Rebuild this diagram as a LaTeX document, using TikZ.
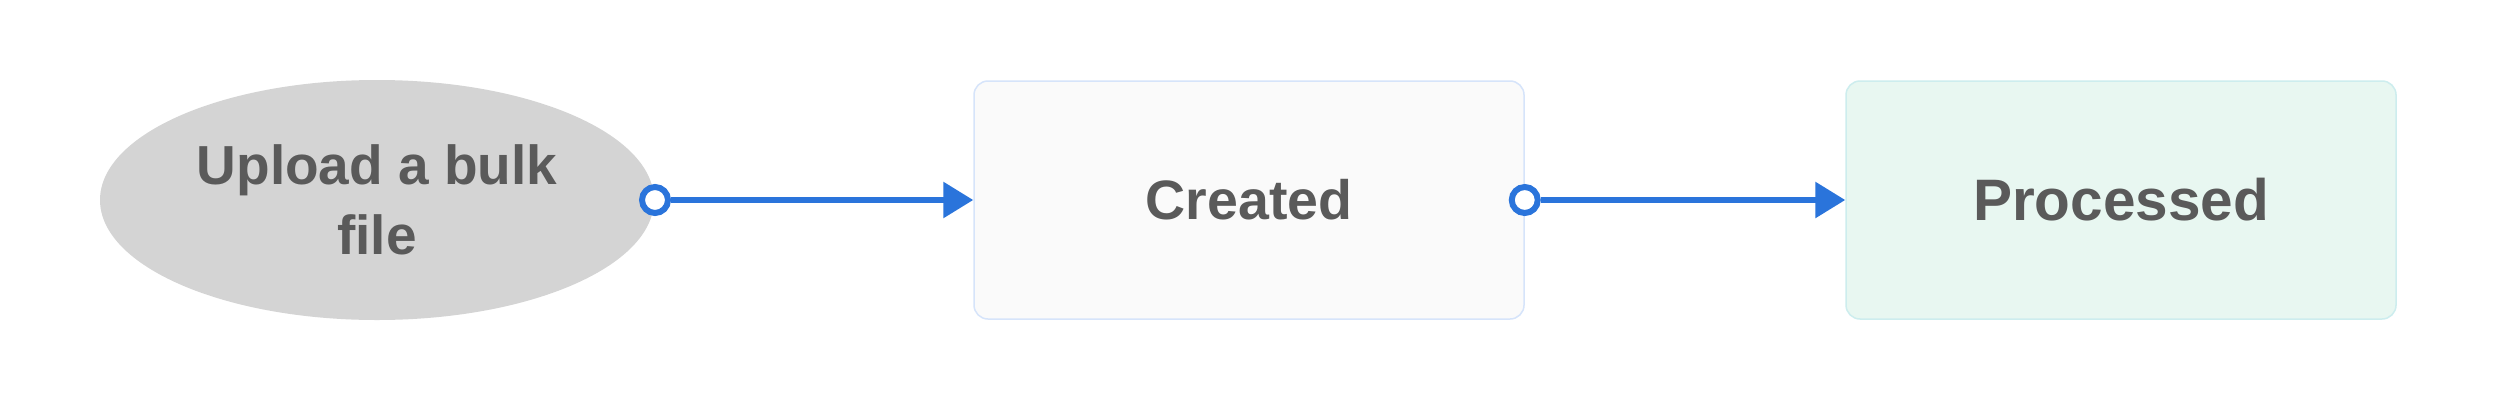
\documentclass[tikz,border=0pt]{standalone}
\usepackage{fontspec}
\setmainfont{Liberation Sans}
\usetikzlibrary{arrows.meta,shapes.geometric}
\pgfdeclarelayer{bg}
\pgfsetlayers{bg,main}
\newdimen\px
\px=0.2pt
\definecolor{txtc}{HTML}{5A5A5A}
\definecolor{ellfill}{HTML}{D4D4D4}
\definecolor{arrowc}{HTML}{2A74DB}
\definecolor{crfill}{HTML}{FAFAFA}
\definecolor{crline}{HTML}{D6E4FA}
\definecolor{prfill}{HTML}{E8F7F1}
\definecolor{prline}{HTML}{CDEDEE}
\definecolor{glowc}{HTML}{C4D6F5}
\definecolor{shadc}{HTML}{6A6A6A}
\tikzset{
  ellnode/.style={ellipse, fill=ellfill, minimum width=554\px, minimum height=240\px,
    inner sep=0pt, align=center, text=txtc,
    font=\fontsize{11}{14}\selectfont\bfseries},
  boxnode/.style={rectangle, rounded corners=14\px, line width=1.5\px,
    minimum width=550\px, minimum height=238\px, inner sep=0pt, text=txtc},
  crbox/.style={boxnode, fill=crfill, draw=crline, font=\fontsize{11.1}{13}\selectfont\bfseries},
  prbox/.style={boxnode, fill=prfill, draw=prline, font=\fontsize{11.7}{14}\selectfont\bfseries},
  portdot/.style={circle, draw=arrowc, line width=6\px, fill=white, minimum size=26\px, inner sep=0pt},
  conn/.style={draw=arrowc, line width=6\px, -{Triangle[length=6pt,width=7pt]}},
}
\begin{document}
\begin{tikzpicture}[x=0.2pt,y=-0.2pt]
\useasboundingbox (0,0) rectangle (2500,400);
\fill[white] (0,0) rectangle (2500,400);

\node[ellnode] (upload) at (377,200) {Upload a bulk\\file};
\node[crbox] (created) at (1249,200) {Created};
\node[prbox] (processed) at (2121,200) {Processed};

\begin{pgfonlayer}{bg}
  \foreach \k in {0,...,8}{
    \fill[shadc, opacity=0.11] ([shift={(2\px,-7\px)}]upload.center) ellipse [x radius={(275+\k)*\px}, y radius={(118+\k)*\px}];
  }
  \foreach \n in {created,processed}{
    \foreach \k [evaluate=\k as \d using 2*\k, evaluate=\k as \r using 14+2*\k,
                 evaluate=\k as \ta using 2*\k-6, evaluate=\k as \tb using -2*\k-6] in {1,...,14}{
      \fill[glowc, opacity=0.045, rounded corners=\r\px]
        ([shift={(-\d\px,\ta\px)}]\n.north west) rectangle ([shift={(\d\px,\tb\px)}]\n.south east);
    }
  }
\end{pgfonlayer}

\node[portdot] (p1) at (upload.east) {};
\node[portdot] (p2) at (created.east) {};
\draw[conn] (p1) -- (created);
\draw[conn] (p2) -- (processed);
\end{tikzpicture}
\end{document}
